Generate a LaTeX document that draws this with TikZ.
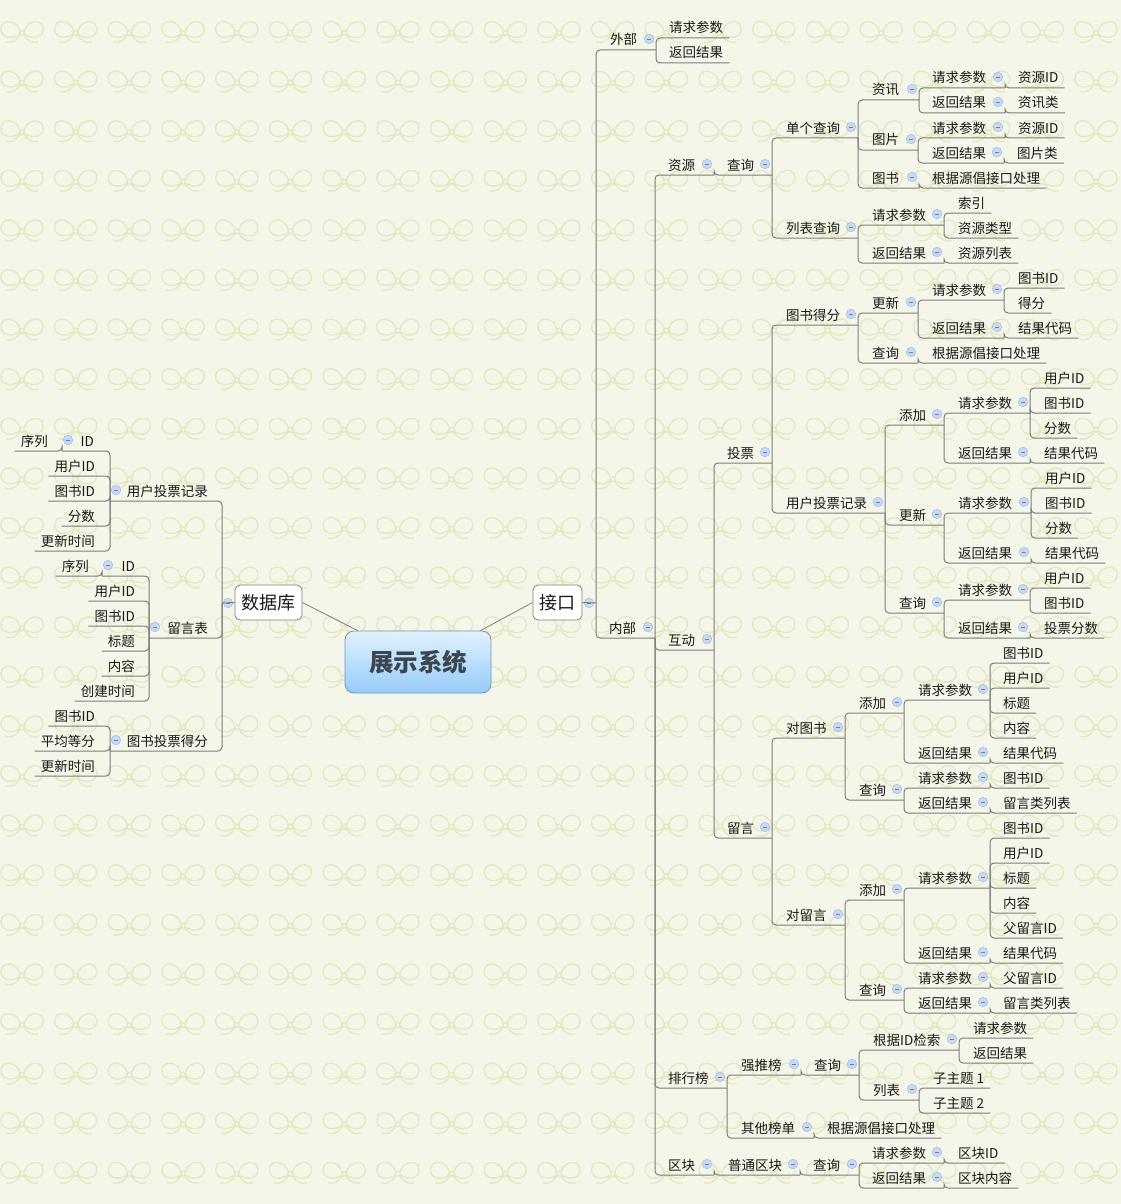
\documentclass[tikz,border=0pt]{standalone}
\usepackage{fontspec}
\setmainfont{Noto Sans CJK SC}
\usetikzlibrary{calc}
\definecolor{bg}{RGB}{245,246,234}
\definecolor{bowc}{RGB}{229,232,192}
\definecolor{ln}{RGB}{125,125,125}
\definecolor{txt}{RGB}{25,25,25}
\definecolor{icf}{RGB}{200,218,242}
\definecolor{icd}{RGB}{160,188,228}
\definecolor{icm}{RGB}{90,130,200}
\definecolor{rtop}{RGB}{226,241,255}
\definecolor{rbot}{RGB}{150,203,248}
\definecolor{rbd}{RGB}{110,150,190}
\definecolor{rtx}{RGB}{60,70,80}
\tikzset{
  topic/.style={inner sep=0pt, font=\fontsize{13.5}{16}\selectfont, text=txt},
  conn/.style={draw=ln, line width=1pt, rounded corners=4pt},
  icon/.style={circle, minimum size=9.5pt, inner sep=0pt, fill=icf, draw=icd, line width=0.5pt,
    path picture={\draw[icm, line width=0.9pt] ([xshift=-2.2pt]path picture bounding box.center) -- ([xshift=2.2pt]path picture bounding box.center);}},
  box/.style={draw=ln, fill=white, rounded corners=5pt, line width=0.8pt, minimum height=35pt, inner sep=0pt, font=\fontsize{18}{20}\selectfont, text=txt},
  rootbox/.style={draw=rbd, top color=rtop, bottom color=rbot, rounded corners=9pt, line width=0.8pt, minimum width=146pt, minimum height=62pt, inner sep=0pt, font=\fontsize{24.5}{26}\selectfont\bfseries, text=rtx},
  bowline/.style={draw=bowc, line width=1.4pt, line cap=round},
  bow/.pic={
    \draw[bowline] (-2,0) .. controls (-4,-12) and (-20,-14) .. (-21,-4)
       .. controls (-22,6) and (-10,8) .. (-2,2);
    \draw[bowline] (2,0) .. controls (4,-12) and (20,-14) .. (21,-4)
       .. controls (22,6) and (10,8) .. (2,2);
    \draw[bowline] (0,1) circle (2.5);
    \draw[bowline] (-2,3) .. controls (-5,8) and (-10,12) .. (-16,10);
    \draw[bowline] (2,3) .. controls (5,8) and (10,12) .. (16,10);
  },
}
% name parent x y text barx
\newcommand\TopR[6]{%
  \node[topic,anchor=base west] (#1) at (#3,#4+6) {#5};
  \coordinate (#1-b) at (#6,#4+11);
  \node[icon] (#1-i) at (#6-7,#4) {};
  \draw[conn] (#2-b) |- (#1-b);
}
% name parent x y text
\newcommand\LeafR[5]{%
  \node[topic,anchor=base west] (#1) at (#3,#4+6) {#5};
  \coordinate (#1-b) at ($(#1.base east)+(6,5)$);
  \draw[conn] (#2-b) |- (#1-b);
}
% name parent xright y text barx
\newcommand\TopL[6]{%
  \node[topic,anchor=base east] (#1) at (#3,#4+6) {#5};
  \coordinate (#1-b) at (#6,#4+11);
  \node[icon] (#1-i) at (#6+6,#4) {};
  \draw[conn] (#2-b) |- (#1-b);
}
\newcommand\LeafL[5]{%
  \node[topic,anchor=base east] (#1) at (#3,#4+6) {#5};
  \coordinate (#1-b) at ($(#1.base west)+(-6,5)$);
  \draw[conn] (#2-b) |- (#1-b);
}
\begin{document}
\begin{tikzpicture}[x=1pt,y=-1pt]
\useasboundingbox (0,0) rectangle (1121,1204);
\fill[bg] (0,0) rectangle (1121,1204);
\begin{scope}
\clip (0,0) rectangle (1121,1204);
\foreach \i in {0,...,21} {
  \foreach \j in {0,...,24} {
    \pic at (22+53.7*\i, 32+49.6*\j) {bow};
  }
}
\end{scope}

% central part
\node[rootbox] (root) at (418,662) {展示系统};
\node[box, minimum width=67pt] (db) at (268.5,602.5) {数据库};
\node[box, minimum width=49pt] (jk) at (557.5,602.5) {接口};
\draw[ln, line width=0.8pt] (db.east) -- ($(root.north west)+(13,0)$);
\draw[ln, line width=0.8pt] (jk.west) -- ($(root.north east)+(-11,0)$);

\coordinate (jk-b) at (596,603);
\node[icon] (jk-i) at (589,603) {};
\draw[conn] (jk.east) -- (jk-b);
\coordinate (db-b) at (222,603);
\node[icon] (db-i) at (228,603) {};
\draw[conn] (db.west) -- (db-b);

% ===== right: 接口 =====
\TopR{wb}{jk}{610}{39}{外部}{656}
\LeafR{wb1}{wb}{669}{27}{请求参数}
\LeafR{wb2}{wb}{669}{52}{返回结果}
\TopR{nb}{jk}{609}{627}{内部}{655}

% 资源
\TopR{zy}{nb}{668}{164}{资源}{714}
\TopR{zycx}{zy}{727}{164}{查询}{772}
\TopR{dg}{zycx}{786}{127}{单个查询}{858}
\TopR{zx}{dg}{872}{89}{资讯}{919}
\TopR{zx1}{zx}{932}{77}{请求参数}{1005}
\LeafR{zx1a}{zx1}{1018}{77}{资源ID}
\TopR{zx2}{zx}{932}{102}{返回结果}{1005}
\LeafR{zx2a}{zx2}{1018}{102}{资讯类}
\TopR{tp}{dg}{872}{139}{图片}{918}
\TopR{tp1}{tp}{932}{127}{请求参数}{1005}
\LeafR{tp1a}{tp1}{1018}{127}{资源ID}
\TopR{tp2}{tp}{932}{152}{返回结果}{1004}
\LeafR{tp2a}{tp2}{1017}{152}{图片类}
\TopR{ts}{dg}{872}{177}{图书}{919}
\LeafR{ts1}{ts}{932}{177}{根据源倡接口处理}
\TopR{lb}{zycx}{786}{227}{列表查询}{858}
\TopR{lb1}{lb}{872}{214}{请求参数}{944}
\LeafR{lb1a}{lb1}{958}{202}{索引}
\LeafR{lb1b}{lb1}{958}{227}{资源类型}
\TopR{lb2}{lb}{872}{252}{返回结果}{944}
\LeafR{lb2a}{lb2}{958}{252}{资源列表}

% 互动
\TopR{hd}{nb}{668}{639}{互动}{714}
\TopR{tpv}{hd}{727}{452}{投票}{772}
\TopR{tsdf}{tpv}{786}{314}{图书得分}{858}
\TopR{gx}{tsdf}{872}{302}{更新}{918}
\TopR{gx1}{gx}{932}{289}{请求参数}{1004}
\LeafR{gx1a}{gx1}{1018}{277}{图书ID}
\LeafR{gx1b}{gx1}{1018}{302}{得分}
\TopR{gx2}{gx}{932}{327}{返回结果}{1004}
\LeafR{gx2a}{gx2}{1018}{327}{结果代码}
\TopR{cx}{tsdf}{872}{352}{查询}{918}
\LeafR{cx1}{cx}{932}{352}{根据源倡接口处理}
\TopR{yh}{tpv}{786}{502}{用户投票记录}{885}
\TopR{tj}{yh}{899}{414}{添加}{944}
\TopR{tj1}{tj}{958}{402}{请求参数}{1030}
\LeafR{tj1a}{tj1}{1044}{377}{用户ID}
\LeafR{tj1b}{tj1}{1044}{402}{图书ID}
\LeafR{tj1c}{tj1}{1044}{427}{分数}
\TopR{tj2}{tj}{958}{452}{返回结果}{1030}
\LeafR{tj2a}{tj2}{1044}{452}{结果代码}
\TopR{ug}{yh}{899}{514}{更新}{944}
\TopR{ug1}{ug}{958}{502}{请求参数}{1031}
\LeafR{ug1a}{ug1}{1045}{477}{用户ID}
\LeafR{ug1b}{ug1}{1045}{502}{图书ID}
\LeafR{ug1c}{ug1}{1045}{527}{分数}
\TopR{ug2}{ug}{958}{552}{返回结果}{1031}
\LeafR{ug2a}{ug2}{1045}{552}{结果代码}
\TopR{uc}{yh}{899}{602}{查询}{944}
\TopR{uc1}{uc}{958}{589}{请求参数}{1030}
\LeafR{uc1a}{uc1}{1044}{577}{用户ID}
\LeafR{uc1b}{uc1}{1044}{602}{图书ID}
\TopR{uc2}{uc}{958}{627}{返回结果}{1030}
\LeafR{uc2a}{uc2}{1044}{627}{投票分数}

\TopR{ly}{hd}{727}{827}{留言}{772}
\TopR{dts}{ly}{786}{727}{对图书}{845}
\TopR{dta}{dts}{859}{702}{添加}{904}
\TopR{dta1}{dta}{918}{689}{请求参数}{990}
\LeafR{dta1a}{dta1}{1003}{652}{图书ID}
\LeafR{dta1b}{dta1}{1003}{677}{用户ID}
\LeafR{dta1c}{dta1}{1003}{702}{标题}
\LeafR{dta1d}{dta1}{1003}{727}{内容}
\TopR{dta2}{dta}{918}{752}{返回结果}{990}
\LeafR{dta2a}{dta2}{1003}{752}{结果代码}
\TopR{dtc}{dts}{859}{789}{查询}{904}
\TopR{dtc1}{dtc}{918}{777}{请求参数}{990}
\LeafR{dtc1a}{dtc1}{1003}{777}{图书ID}
\TopR{dtc2}{dtc}{918}{802}{返回结果}{990}
\LeafR{dtc2a}{dtc2}{1003}{802}{留言类列表}
\TopR{dly}{ly}{786}{914}{对留言}{845}
\TopR{dla}{dly}{859}{889}{添加}{904}
\TopR{dla1}{dla}{918}{877}{请求参数}{990}
\LeafR{dla1a}{dla1}{1003}{827}{图书ID}
\LeafR{dla1b}{dla1}{1003}{852}{用户ID}
\LeafR{dla1c}{dla1}{1003}{877}{标题}
\LeafR{dla1d}{dla1}{1003}{902}{内容}
\LeafR{dla1e}{dla1}{1003}{927}{父留言ID}
\TopR{dla2}{dla}{918}{952}{返回结果}{990}
\LeafR{dla2a}{dla2}{1003}{952}{结果代码}
\TopR{dlc}{dly}{859}{989}{查询}{904}
\TopR{dlc1}{dlc}{918}{977}{请求参数}{990}
\LeafR{dlc1a}{dlc1}{1003}{977}{父留言ID}
\TopR{dlc2}{dlc}{918}{1002}{返回结果}{990}
\LeafR{dlc2a}{dlc2}{1003}{1002}{留言类列表}

% 排行榜
\TopR{phb}{nb}{668}{1077}{排行榜}{727}
\TopR{qtb}{phb}{741}{1064}{强推榜}{801}
\TopR{qtc}{qtb}{814}{1064}{查询}{859}
\TopR{gj}{qtc}{873}{1039}{根据ID检索}{959}
\LeafR{gj1}{gj}{973}{1027}{请求参数}
\LeafR{gj2}{gj}{973}{1052}{返回结果}
\TopR{lbz}{qtc}{873}{1089}{列表}{919}
\LeafR{lbz1}{lbz}{933}{1077}{子主题 1}
\LeafR{lbz2}{lbz}{933}{1102}{子主题 2}
\TopR{qt}{phb}{741}{1127}{其他榜单}{814}
\LeafR{qt1}{qt}{827}{1127}{根据源倡接口处理}

% 区块
\TopR{qk}{nb}{668}{1164}{区块}{714}
\TopR{pt}{qk}{728}{1164}{普通区块}{800}
\TopR{ptc}{pt}{813}{1164}{查询}{859}
\TopR{ptc1}{ptc}{872}{1152}{请求参数}{944}
\LeafR{ptc1a}{ptc1}{958}{1152}{区块ID}
\TopR{ptc2}{ptc}{872}{1177}{返回结果}{944}
\LeafR{ptc2a}{ptc2}{958}{1177}{区块内容}

% ===== left: 数据库 =====
\TopL{yt}{db}{208}{490}{用户投票记录}{110}
\TopL{ytid}{yt}{94}{440}{ID}{62}
\LeafL{ytxl}{ytid}{48}{440}{序列}
\LeafL{yt2}{yt}{95}{465}{用户ID}
\LeafL{yt3}{yt}{95}{490}{图书ID}
\LeafL{yt4}{yt}{95}{515}{分数}
\LeafL{yt5}{yt}{95}{540}{更新时间}
\TopL{lyb}{db}{208}{627}{留言表}{149}
\TopL{lyid}{lyb}{135}{565}{ID}{102}
\LeafL{lyxl}{lyid}{89}{565}{序列}
\LeafL{ly2}{lyb}{135}{590}{用户ID}
\LeafL{ly3}{lyb}{135}{615}{图书ID}
\LeafL{ly4}{lyb}{135}{640}{标题}
\LeafL{ly5}{lyb}{135}{665}{内容}
\LeafL{ly6}{lyb}{135}{690}{创建时间}
\TopL{tsp}{db}{208}{740}{图书投票得分}{110}
\LeafL{tsp1}{tsp}{95}{715}{图书ID}
\LeafL{tsp2}{tsp}{95}{740}{平均等分}
\LeafL{tsp3}{tsp}{95}{765}{更新时间}
\end{tikzpicture}
\end{document}
